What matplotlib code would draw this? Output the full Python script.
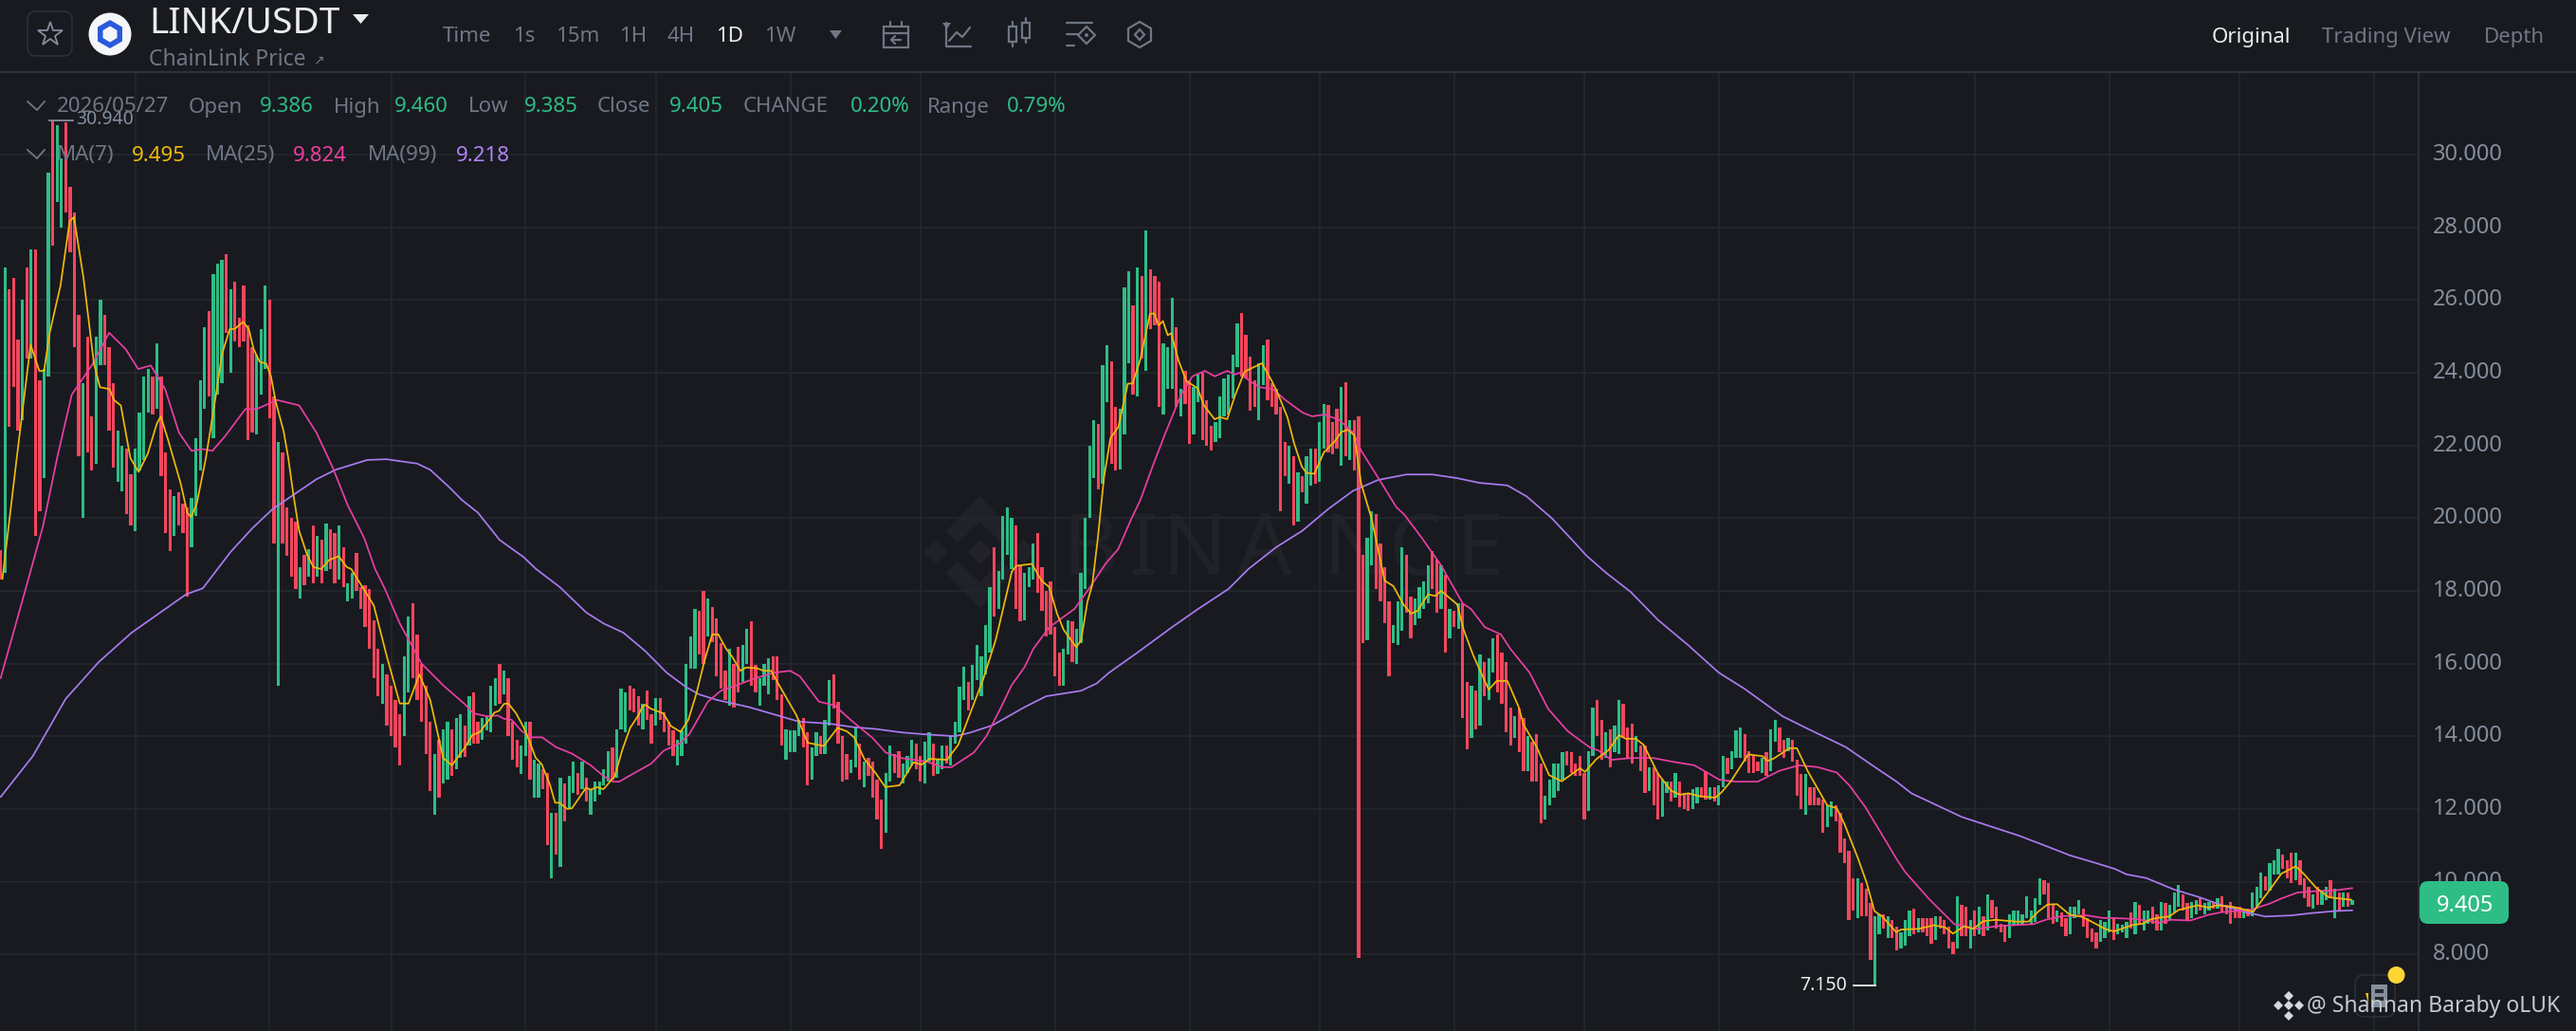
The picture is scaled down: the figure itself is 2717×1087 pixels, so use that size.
import matplotlib
matplotlib.use("Agg")
import matplotlib.pyplot as plt
from matplotlib.patches import Circle, FancyBboxPatch, Polygon, Rectangle
from matplotlib.transforms import ScaledTranslation

# candle highs, ten per row, one candle per day from 2024/12/01
highs = [
    19.13, 26.9, 26.3, 26.6, 24.9, 26.0, 26.9, 27.4, 27.4, 23.8,
    24.1, 29.5, 30.94, 30.8, 29.9, 30.9, 29.1, 28.4, 25.6, 23.7,
    25.0, 22.8, 25.0, 26.0, 25.6, 24.7, 23.7, 22.4, 22.0, 21.9,
    21.2, 21.9, 22.9, 23.9, 24.1, 23.9, 24.8, 23.9, 21.8, 20.8,
    20.6, 20.7, 20.4, 20.3, 20.55, 22.2, 23.8, 25.25, 25.7, 26.7,
    27.0, 27.1, 27.25, 26.3, 26.5, 25.5, 26.4, 25.3, 24.7, 24.5,
    25.2, 26.4, 26.0, 23.35, 22.1, 21.8, 20.3, 20.0, 19.9, 18.65,
    19.0, 19.15, 19.8, 19.5, 19.4, 19.85, 19.7, 19.6, 19.8, 19.2,
    18.2, 18.5, 19.05, 18.1, 18.15, 18.05, 17.2, 16.4, 16.0, 15.7,
    15.4, 15.0, 14.6, 16.2, 17.3, 17.65, 16.8, 16.0, 15.4, 14.4,
    13.5, 13.9, 14.2, 14.4, 14.2, 14.5, 14.6, 14.3, 15.1, 15.2,
    14.4, 14.5, 14.55, 15.4, 15.6, 16.0, 15.8, 15.6, 14.4, 13.9,
    13.75, 14.4, 14.4, 13.35, 13.25, 13.1, 13.0, 11.9, 11.9, 12.85,
    12.7, 12.9, 13.3, 13.0, 13.3, 12.85, 12.55, 12.75, 12.75, 13.1,
    13.6, 13.7, 14.2, 15.3, 15.2, 15.4, 15.3, 15.1, 14.9, 15.25,
    14.6, 15.05, 15.05, 14.65, 14.4, 14.15, 13.9, 14.15, 16.0, 16.75,
    17.5, 17.45, 18.0, 17.8, 17.55, 17.25, 16.55, 15.8, 16.4, 16.0,
    16.45, 16.5, 16.95, 17.15, 15.95, 15.6, 16.0, 16.15, 16.2, 16.2,
    15.15, 14.2, 14.15, 14.15, 14.45, 14.5, 14.1, 13.7, 14.1, 14.0,
    14.45, 15.55, 15.7, 14.95, 14.0, 13.5, 13.35, 14.25, 13.8, 13.3,
    13.4, 13.3, 12.8, 12.25, 13.0, 13.75, 13.5, 13.6, 13.25, 13.45,
    13.9, 13.8, 13.45, 13.85, 14.1, 13.8, 13.35, 13.75, 13.75, 14.0,
    14.4, 15.35, 15.9, 15.5, 15.95, 16.5, 16.2, 17.05, 18.1, 19.2,
    18.55, 20.05, 20.3, 20.0, 19.8, 18.7, 18.5, 18.65, 19.3, 19.6,
    18.65, 18.0, 18.25, 17.0, 16.3, 16.4, 17.2, 17.15, 16.95, 18.5,
    20.0, 22.0, 22.7, 22.6, 24.2, 24.75, 24.3, 23.05, 23.0, 26.35,
    26.8, 25.85, 26.9, 26.65, 27.9, 26.85, 26.65, 26.5, 24.8, 24.7,
    26.05, 25.25, 23.55, 24.05, 23.8, 23.6, 23.95, 24.0, 23.25, 22.55,
    22.65, 23.35, 23.85, 23.95, 24.5, 25.35, 25.65, 25.05, 24.45, 23.8,
    24.25, 24.75, 24.9, 23.7, 23.55, 23.05, 22.1, 22.0, 21.7, 21.25,
    21.15, 21.7, 21.9, 21.9, 22.65, 23.15, 23.1, 22.65, 23.0, 23.6,
    23.75, 22.7, 22.7, 22.8, 19.0, 19.45, 20.2, 20.1, 19.3, 18.65,
    17.7, 17.05, 17.7, 19.2, 19.0, 17.85, 17.8, 18.1, 18.25, 18.7,
    19.1, 18.85, 18.7, 18.45, 17.5, 17.45, 17.65, 17.65, 15.5, 15.4,
    15.25, 16.25, 16.05, 16.15, 16.7, 16.8, 16.3, 16.05, 14.8, 14.55,
    14.75, 14.5, 14.0, 13.85, 14.05, 13.25, 12.35, 12.8, 13.25, 13.25,
    13.55, 13.6, 13.55, 13.25, 13.45, 13.0, 13.6, 14.8, 15.0, 14.45,
    14.1, 14.2, 14.3, 15.0, 14.9, 14.25, 14.35, 14.0, 13.75, 13.75,
    13.15, 13.15, 13.0, 12.8, 12.75, 12.75, 13.0, 12.75, 12.45, 12.45,
    12.55, 12.6, 12.6, 13.05, 12.6, 12.6, 12.65, 13.45, 13.4, 13.6,
    14.15, 14.25, 14.05, 13.6, 13.45, 13.3, 13.4, 13.55, 14.2, 14.45,
    14.25, 13.9, 13.95, 13.9, 13.35, 12.95, 12.95, 12.6, 12.6, 12.3,
    12.25, 12.1, 12.2, 12.1, 11.9, 11.2, 10.85, 10.1, 10.1, 9.95,
    9.8, 9.4, 9.05, 9.1, 9.1, 9.05, 8.95, 8.75, 8.6, 8.95,
    9.2, 9.25, 9.0, 9.0, 9.0, 9.0, 9.05, 9.05, 8.95, 8.75,
    8.35, 9.6, 9.35, 9.3, 8.95, 9.2, 9.3, 9.05, 9.65, 9.5,
    9.3, 8.85, 8.8, 9.1, 9.2, 9.2, 9.1, 9.6, 9.2, 9.55,
    10.1, 10.05, 9.95, 9.35, 9.2, 9.15, 9.0, 9.3, 9.3, 9.5,
    9.25, 9.0, 8.7, 8.6, 8.95, 8.9, 9.2, 9.03, 8.85, 8.8,
    8.9, 9.15, 9.45, 9.35, 9.2, 9.2, 9.3, 9.1, 9.45, 9.4,
    9.35, 9.7, 9.9, 9.65, 9.4, 9.45, 9.5, 9.55, 9.4, 9.45,
    9.45, 9.55, 9.6, 9.35, 9.45, 9.3, 9.3, 9.25, 9.25, 9.7,
    9.85, 10.25, 10.15, 10.5, 10.6, 10.9, 10.75, 10.6, 10.8, 10.8,
    10.6, 10.1, 9.85, 9.65, 9.85, 9.75, 9.85, 10.05, 9.8, 9.7,
    9.7, 9.7, 9.48,
]

lows = [
    18.3, 18.5, 22.5, 23.6, 22.4, 22.7, 24.4, 24.4, 19.5, 20.2,
    21.1, 23.9, 27.5, 28.7, 28.0, 28.4, 27.3, 24.7, 21.7, 20.0,
    21.8, 21.3, 21.5, 24.2, 24.2, 22.4, 21.4, 21.0, 20.75, 20.1,
    19.8, 19.65, 21.3, 21.6, 22.9, 22.85, 23.0, 21.15, 19.6, 19.1,
    19.5, 19.8, 19.6, 17.85, 19.2, 20.05, 21.3, 23.0, 23.35, 22.2,
    23.4, 23.7, 25.1, 24.0, 24.85, 24.7, 24.85, 22.15, 22.35, 22.3,
    23.4, 24.1, 22.75, 19.3, 15.4, 19.3, 18.95, 18.4, 18.05, 17.8,
    18.15, 18.4, 18.2, 18.4, 18.2, 18.55, 18.6, 18.2, 18.3, 18.1,
    17.7, 17.8, 18.0, 17.5, 17.0, 16.4, 15.6, 15.1, 14.9, 14.3,
    14.0, 13.7, 13.2, 14.0, 15.2, 15.6, 15.0, 14.4, 13.5, 12.5,
    11.85, 12.3, 12.7, 12.8, 12.9, 13.1, 13.4, 13.43, 13.75, 13.8,
    13.8, 13.9, 14.15, 14.1, 14.85, 14.9, 15.15, 14.0, 13.35, 13.15,
    12.95, 13.45, 12.8, 12.3, 12.3, 12.55, 11.0, 10.1, 10.75, 10.4,
    11.65, 12.0, 12.45, 12.4, 12.55, 12.2, 11.85, 12.2, 12.4, 12.65,
    12.75, 12.8, 12.85, 14.2, 14.1, 14.7, 14.65, 14.3, 14.2, 14.45,
    13.8, 14.3, 14.45, 14.1, 13.75, 13.45, 13.2, 13.45, 13.8, 15.85,
    15.85, 16.25, 16.0, 16.75, 16.6, 15.65, 15.3, 15.0, 14.85, 14.8,
    15.2, 15.5, 16.0, 15.4, 15.2, 14.85, 15.4, 15.15, 15.55, 15.0,
    13.75, 13.35, 13.55, 13.55, 14.0, 13.7, 12.65, 12.8, 13.45, 13.5,
    13.5, 14.3, 14.75, 13.8, 12.75, 12.8, 13.0, 13.15, 12.8, 12.6,
    12.9, 12.3, 11.7, 10.9, 11.35, 12.75, 13.0, 12.85, 12.7, 13.0,
    13.2, 13.1, 12.75, 12.7, 13.3, 12.9, 12.95, 13.1, 13.25, 13.2,
    13.8, 14.1, 15.0, 14.7, 15.0, 15.55, 15.1, 15.7, 16.3, 17.3,
    17.5, 18.3, 19.0, 18.6, 17.5, 17.15, 17.2, 18.1, 18.3, 17.95,
    17.45, 16.75, 16.8, 15.65, 15.4, 15.4, 16.25, 16.05, 16.0, 16.55,
    18.05, 20.0, 21.1, 20.8, 20.95, 23.2, 21.5, 21.3, 21.35, 22.3,
    24.25, 23.4, 23.35, 24.4, 24.05, 25.2, 25.3, 23.05, 22.85, 23.55,
    23.55, 23.05, 22.8, 23.15, 22.05, 22.3, 23.2, 22.15, 22.0, 21.85,
    22.1, 22.2, 22.8, 22.85, 23.3, 24.15, 23.9, 23.85, 22.95, 23.05,
    22.7, 23.65, 23.25, 23.05, 22.85, 20.2, 21.15, 20.95, 19.8, 19.9,
    20.7, 20.4, 20.9, 20.95, 21.0, 21.9, 21.8, 21.75, 21.9, 21.45,
    21.7, 21.6, 21.3, 7.9, 16.55, 16.65, 18.7, 18.05, 17.7, 17.1,
    15.65, 16.55, 16.5, 16.9, 17.4, 16.7, 17.05, 17.25, 17.5, 17.65,
    18.05, 17.4, 17.5, 16.3, 16.7, 17.0, 16.95, 14.5, 13.65, 13.95,
    14.2, 14.3, 15.1, 15.0, 15.75, 15.2, 14.9, 14.1, 13.75, 13.95,
    13.55, 13.05, 13.05, 12.75, 12.75, 11.6, 11.7, 12.1, 12.3, 12.5,
    12.8, 13.2, 13.0, 12.9, 12.9, 11.7, 11.95, 13.45, 14.0, 13.35,
    13.4, 13.15, 13.55, 13.5, 13.95, 13.4, 13.25, 13.55, 13.05, 12.45,
    12.5, 12.1, 11.7, 11.8, 12.45, 12.2, 12.3, 12.05, 12.0, 11.95,
    12.0, 12.15, 12.3, 12.25, 12.25, 12.2, 12.1, 12.6, 12.95, 13.1,
    13.4, 13.4, 13.3, 13.0, 13.0, 13.05, 13.0, 12.9, 13.05, 13.85,
    13.55, 13.4, 13.6, 13.3, 12.35, 12.0, 11.85, 12.1, 12.1, 12.1,
    11.35, 11.5, 11.8, 11.65, 10.8, 10.5, 8.95, 9.2, 9.0, 9.05,
    9.05, 7.85, 7.15, 8.55, 8.7, 8.45, 8.45, 8.1, 8.15, 8.25,
    8.5, 8.55, 8.6, 8.6, 8.5, 8.3, 8.4, 8.7, 8.55, 8.15,
    8.0, 8.15, 8.5, 8.5, 8.15, 8.5, 8.55, 8.5, 8.65, 9.0,
    8.7, 8.6, 8.35, 8.45, 8.8, 8.8, 8.8, 9.0, 8.85, 8.9,
    9.35, 9.65, 9.0, 8.85, 8.9, 8.75, 8.5, 8.55, 9.0, 9.1,
    8.75, 8.45, 8.35, 8.15, 8.35, 8.45, 8.6, 8.4, 8.55, 8.6,
    8.45, 8.7, 8.55, 8.8, 8.65, 8.85, 8.85, 8.65, 8.65, 8.85,
    8.95, 9.15, 9.3, 9.2, 8.95, 9.0, 9.1, 9.2, 9.1, 9.2,
    9.25, 9.25, 9.15, 9.1, 8.85, 9.0, 9.0, 9.0, 9.05, 9.05,
    9.25, 9.55, 9.75, 9.75, 10.2, 10.2, 10.35, 10.1, 9.95, 10.05,
    9.9, 9.55, 9.3, 9.25, 9.35, 9.35, 9.5, 9.55, 9.0, 9.2,
    9.3, 9.3, 9.35,
]

# g = close above open, r = close below open
directions = (
    "rgrrrgrgrr" "ggrggrrrrg" "rrggrrrggr" "rggggrgrrr" "grrrggggrg"
    "ggrgrrrrrg" "ggrrgrrrrg" "rgrgrgrrgr" "ggrrrrrrgr" "rrrggrrrrr"
    "grggrggrgr" "rggggrgrrr" "ggrggrrgrg" "rggrgrgggg" "grgggrrrgr"
    "rgrrrrgggg" "grrgrrrrgr" "rggrrgggrr" "rggggrrggr" "ggrrrrggrg"
    "rrrrggrrgg" "grrggrggrg" "gggrgggggr" "ggggrrgggr" "rrrrrggrgg"
    "gggrggrrgg" "grgrgrrrgg" "grgrrggrrr" "ggggggrrrr" "ggrrrrrgrg"
    "rggrggrrrg" "rgrrrggrrr" "rgggrrgggg" "rrgrgrgrrg" "rgrggrrrrg"
    "rrgrrrgggg" "grrrrrggrr" "grggrrrgrr" "grrggrgrrr" "ggrrgrggrg"
    "ggrrrrgrgg" "rrgrrrgrrr" "rggrrrrrgr" "rrggrgrrgg" "grgrrrgrrr"
    "rgrrgrgrgr" "rrrggggggg" "grrrgrrggg" "rrrrgggrgg" "grgrggrrgr"
    "gggrrggrgg" "rgrrrrrgrg" "ggrgggrrrg" "rrrgrggrgr" "grg"
)

ma7_days = [0.4, 3.6, 6.9, 8.9, 10, 11.3, 13.8, 15.9, 16.9, 19.1, 21.5, 22.9, 25.1, 26.1, 27.7, 29.9, 31.8, 33.9, 36,
            36.9, 38.6, 41.5, 43, 43.9, 45.2, 47.3, 49.5, 51, 52.8, 53.9, 55.9, 57.2, 58.3, 59.7, 61.2, 62.3, 63.4,
            65.2, 66.3, 67.4, 68.8, 70.6, 72.1, 73.9, 75.7, 77.9, 79.8, 80.8, 83.4, 86, 89, 92, 94, 96.5, 99, 102,
            104, 106.9, 108.7, 110.5, 113.8, 114.9, 116, 117, 118.8, 120.6, 122.2, 123.3, 124.7, 126.6, 127.8, 128.8,
            130.6, 131.7, 134.9, 136, 137.5, 138.9, 141.5, 143.3, 145.1, 147, 148, 148.7, 149.8, 152.7, 154.5, 156.7,
            158.5, 160.4, 162.2, 164, 165.4, 167.2, 168.7, 170.5, 171.8, 174.3, 175.8, 177.6, 179.4, 183.4, 186,
            189.7, 192.9, 195.1, 196.7, 199.1, 201.7, 203.9, 207.2, 210.4, 212.3, 214.1, 218.1, 220.7, 223.6, 226.5,
            229.4, 233.1, 234.2, 237.7, 239.9, 241.7, 243.5, 245, 247.9, 249, 250.5, 251.6, 252.9, 254.3, 255.8, 257.6,
            259.8, 260.9, 262.7, 264.9, 265.9, 266.9, 267.9, 269, 269.8, 271.5, 273.3, 275.9, 277.3, 279.8, 281,
            282.7, 284.5, 286.7, 290.7, 293, 294.4, 296.6, 298.1, 299.9, 301, 302.8, 305, 307.5, 309, 310.5, 312,
            313.6, 316, 319, 321, 323.3, 325.1, 326.6, 329, 330.7, 332, 335.7, 337.2, 339.4, 343, 344.8, 347.3, 349.9,
            351, 354, 356.9, 359.8, 362.3, 364, 365.2, 367.8, 370.7, 373, 374.6, 376.9, 378.7, 382, 385, 387.1, 389,
            391.6, 395.2, 396.6, 398.8, 402.8, 406.1, 407.2, 408.6, 412.3, 414, 416.6, 421, 423.2, 425, 428, 430.1,
            431.9, 433.7, 436.9, 438, 442, 445.6, 448.2, 450, 452.5, 454.7, 456.9, 459.8, 464.5, 467.4, 469.6, 471.8,
            474, 476.9, 479.8, 482.7, 485, 487.1, 491.5, 493.7, 495.5, 498, 499.8, 502, 506.4, 508.9, 510.8, 514.8,
            519.2, 522.8, 525.7, 529, 530.8, 533.7, 536.6, 541.8]
ma7_values = [18.33, 21.55, 24.77, 24.05, 24.05, 25.1, 26.4, 28.17, 28.28, 26.6, 24.25, 23.6, 23.55, 23.25, 23.1, 21.65,
              21.27, 21.77, 22.6, 22.8, 22.15, 20.95, 20.15, 20.03, 20.4, 21.65, 23.3, 24.5, 25.2, 25.2, 25.4, 25.2,
              24.65, 24.3, 24.25, 23.9, 23.2, 22.4, 21.65, 20.7, 19.65, 19, 18.65, 18.6, 18.85, 18.95, 18.65, 18.6,
              18.1, 17.6, 16.2, 14.9, 14.9, 15.7, 15, 13.4, 13.2, 13.67, 14.03, 14.12, 14.65, 14.7, 14.89, 14.9,
              14.63, 14.23, 13.76, 13.41, 13.23, 12.67, 12.17, 12.17, 12, 12.02, 12.58, 12.53, 12.6, 12.54, 12.89,
              13.63, 14.23, 14.58, 14.83, 14.86, 14.76, 14.63, 14.28, 14.12, 14.45, 15.19, 16.06, 16.8, 16.8, 16.41,
              16.17, 15.8, 15.89, 15.87, 15.8, 15.8, 15.41, 14.58, 13.82, 13.73, 14.23, 14.13, 13.97, 13.37, 12.98,
              12.6, 12.65, 13.28, 13.22, 13.38, 13.35, 13.76, 14.67, 15.58, 16.67, 18.54, 18.69, 18.74, 18.28, 18.1,
              17.37, 16.93, 16.45, 16.63, 17.7, 18.16, 19.46, 21.11, 22.2, 22.5, 23.7, 23.7, 24.37, 25.62, 25.63,
              25.3, 25.42, 25.03, 25.09, 24.33, 23.77, 23.57, 23.11, 22.72, 22.78, 22.72, 23.37, 24.03, 24.26, 23.77,
              23.42, 22.77, 22.07, 21.42, 21.24, 21.22, 21.81, 22.11, 22.37, 22.43, 22.28, 20.94, 19.98, 18.28, 18.13,
              17.63, 17.37, 17.45, 17.9, 17.86, 18, 17.63, 16.93, 16.23, 15.28, 15.52, 15.52, 14.8, 14.32, 13.71,
              12.93, 12.76, 12.97, 13.12, 13.02, 13.37, 13.63, 14.03, 13.93, 13.93, 13.76, 12.97, 12.5, 12.39, 12.43,
              12.35, 12.31, 12.45, 12.76, 13.5, 13.45, 13.32, 13.38, 13.67, 13.67, 13.02, 12.1, 12.02, 11.58, 10.67,
              9.97, 9.19, 9.04, 8.61, 8.68, 8.7, 8.8, 8.74, 8.57, 8.77, 8.7, 8.91, 8.95, 8.9, 8.9, 9.17, 9.37, 9.38,
              9.09, 9.03, 8.85, 8.7, 8.63, 8.81, 8.84, 8.96, 9.02, 9.04, 9.22, 9.35, 9.28, 9.35, 9.3, 9.17, 9.74,
              10.22, 10.42, 10.22, 9.83, 9.57, 9.5]

ma25_days = [0, 5.8, 9.8, 13.1, 16.4, 21, 25, 28.8, 31.7, 34.6, 37.9, 41.1, 44, 46.6, 48.8, 51.7, 56.4, 59, 63.7, 68.8,
             72.8, 76.5, 80, 83.8, 86.3, 88.5, 92, 97, 102, 106.9, 109, 112, 114.6, 116, 117.8, 120, 122.2, 124.8, 128,
             131.7, 136, 139, 141.2, 142.6, 145.5, 150, 152.8, 156.5, 158.7, 163, 166, 169.6, 174, 178.4, 182, 184.2,
             188.6, 190.4, 192.2, 195.9, 201, 204, 207.6, 213.4, 217, 219.2, 224.3, 227.2, 230.8, 233, 236, 238, 241.7,
             247.5, 251.1, 254.7, 257.6, 260.5, 262.7, 265.6, 268.5, 272.1, 274.7, 277.6, 279.8, 282.7, 284.5, 285.6,
             288.1, 290.3, 293.2, 296.1, 300.1, 302.3, 305.2, 308.5, 311.8, 313.6, 317.3, 321.7, 323.5, 327.6, 332, 337,
             338.9, 342.1, 345.8, 348, 352.4, 356.7, 361.1, 363.3, 366.2, 368.4, 371.2, 375.8, 380.9, 385.3, 390.4,
             393.3, 396.2, 399.9, 405, 410, 414.5, 418.8, 423.2, 426.1, 429.8, 433.6, 437.1, 439, 444.5, 450.3, 455.4,
             460.5, 468.5, 471.4, 475.1, 480.9, 484.5, 486.5, 492.3, 497.4, 500.3, 504.7, 509, 512, 518.5, 522.9, 525.8,
             529.4, 533.8, 538.2, 542]
ma25_values = [15.6, 18.07, 19.8, 21.7, 23.4, 24.2, 25.1, 24.65, 24.1, 24.2, 23.55, 22.35, 21.85, 21.9, 21.85, 22.25,
               23, 23, 23.25, 23.1, 22.35, 21.4, 20.35, 19.45, 18.6, 18.07, 17.1, 16, 15.4, 14.89, 14.63, 14.55, 14.57,
               14.48, 14.45, 14.15, 13.97, 13.97, 13.7, 13.52, 13.2, 12.9, 12.75, 12.75, 12.95, 13.25, 13.6, 13.8,
               14.05, 14.95, 15.25, 15.4, 15.6, 15.75, 15.8, 15.65, 14.95, 14.9, 14.85, 14.45, 13.95, 13.55, 13.4,
               13.3, 13.15, 13.15, 13.55, 14, 14.85, 15.4, 15.9, 16.4, 17, 17.5, 18.1, 18.75, 19.15, 19.95, 20.5,
               21.45, 22.35, 23.4, 23.9, 24.05, 23.9, 24.05, 23.95, 24, 23.75, 23.6, 23.55, 23.25, 22.9, 22.8, 22.85,
               22.7, 22.35, 21.85, 21.15, 20.3, 20.1, 19.45, 18.7, 17.65, 17.5, 17, 16.8, 16.4, 15.75, 14.75, 14.15,
               13.95, 13.7, 13.6, 13.35, 13.4, 13.4, 13.3, 13.2, 13, 12.8, 12.75, 12.75, 13.05, 13.2, 13.15, 13, 12.65,
               12.05, 11.3, 10.6, 10.26, 9.52, 8.83, 8.7, 8.78, 8.83, 8.95, 9.05, 9.07, 9, 9, 8.97, 8.87, 8.95, 8.93,
               9.09, 9.16, 9.22, 9.39, 9.54, 9.7, 9.74, 9.76, 9.82]

ma99_days = [0, 7.4, 15, 22.6, 30.2, 42.7, 46.6, 53, 58, 62.6, 67, 72.8, 77.2, 84.5, 88.9, 96, 99, 103.4, 106.3, 110, 115,
             120.5, 123.4, 128.9, 135, 139, 143.5, 148.5, 153.5, 158, 161, 165, 172.5, 179.7, 184, 190.7, 196.5, 201.6,
             208, 213.3, 220, 223.5, 228.6, 236, 241, 249, 252.6, 255.5, 262, 270, 276, 283, 287.6, 294, 300, 306,
             311.7, 317.5, 324, 330, 335.7, 340.8, 347.3, 351.7, 357.5, 362.6, 365.5, 370, 375.7, 382, 389, 396, 402,
             410.7, 416.6, 425.3, 432, 437, 440.4, 452, 465.3, 471, 477, 481.3, 487.3, 490, 494.5, 501, 506.8, 512,
             517, 522, 528, 532.4, 538, 542]
ma99_values = [12.33, 13.45, 15.03, 16.04, 16.85, 17.9, 18.07, 19.07, 19.72, 20.24, 20.6, 21.07, 21.33, 21.6, 21.62,
               21.5, 21.33, 20.85, 20.5, 20.15, 19.4, 18.93, 18.6, 18.1, 17.4, 17.1, 16.85, 16.35, 15.75, 15.35, 15.15,
               15, 14.8, 14.55, 14.4, 14.35, 14.25, 14.2, 14.1, 14.05, 14, 14.1, 14.3, 14.8, 15.1, 15.25, 15.45, 15.75,
               16.3, 17, 17.5, 18.05, 18.6, 19.2, 19.65, 20.25, 20.75, 21.05, 21.2, 21.2, 21.1, 20.97, 20.9, 20.6, 20,
               19.35, 18.97, 18.5, 17.97, 17.2, 16.5, 15.75, 15.3, 14.55, 14.2, 13.7, 13.15, 12.75, 12.43, 11.78, 11.26,
               11, 10.72, 10.57, 10.35, 10.2, 10.1, 9.78, 9.57, 9.35, 9.17, 9.04, 9.07, 9.13, 9.19, 9.21]

# first day of each month as candle number
month_days = [31, 62, 90, 121, 151, 182, 212, 243, 274, 304, 335, 365, 396, 427, 455, 486, 516, 547]
price_ticks = [8, 10, 12, 14, 16, 18, 20, 22, 24, 26, 28, 30]

timeframes = ["Time", "1s", "15m", "1H", "4H", "1D", "1W"]
timeframe_x = [467, 541, 586, 653, 703, 755, 806]
view_tabs = ["Original", "Trading View", "Depth"]
view_tab_x = [2333, 2449, 2620]
ohlc_labels = ["2026/05/27", "Open", "High", "Low", "Close", "CHANGE", "Range"]
ohlc_label_x = [60, 199, 352, 494, 630, 784, 978]
ohlc_values = ["9.386", "9.460", "9.385", "9.405", "0.20%", "0.79%"]
ohlc_value_x = [274, 416, 553, 706, 897, 1062]
ma_labels = ["MA(7)", "MA(25)", "MA(99)"]
ma_label_x = [60, 217, 388]
ma_readouts = ["9.495", "9.824", "9.218"]
ma_readout_x = [139, 309, 481]
watermark_letters = "BINANCE"
watermark_x = [1120, 1190, 1225, 1305, 1395, 1465, 1535]

WIDTH, HEIGHT = 2717, 1087
BG = "#181A20"
GRID = "#23272E"
BORDER = "#2D333D"
GREEN = "#2EBD85"
RED = "#F6465D"
MUTED = "#6F7785"
AXIS_TEXT = "#848E9C"
MA_COLORS = ["#F0B90B", "#E83FA3", "#A97BEF"]
READOUT_COLORS = ["#F0B90B", "#EC3F9F", "#B184F5"]
FONT = "Noto Sans"

plt.rcParams["font.family"] = [FONT, "DejaVu Sans"]

fig = plt.figure(figsize=(WIDTH / 100, HEIGHT / 100), dpi=100, facecolor=BG)

# watermark layer, sits under the candles
back = fig.add_axes([0, 0, 1, 1], zorder=0)
back.set_xlim(0, WIDTH)
back.set_ylim(HEIGHT, 0)
back.axis("off")
mark_color = "#202228"
for cx in [987, 1034, 1080]:
    back.add_patch(Polygon([(cx, 569), (cx + 13, 582), (cx, 595), (cx - 13, 582)], color=mark_color, lw=0))
back.add_patch(Polygon([(1033, 523), (1069, 560), (1057, 573), (1033, 550), (1010, 573), (998, 560)], color=mark_color, lw=0))
back.add_patch(Polygon([(1033, 641), (1069, 604), (1057, 591), (1033, 614), (1010, 591), (998, 604)], color=mark_color, lw=0))
for letter, x in zip(watermark_letters, watermark_x):
    back.text(x, 583, letter, color=mark_color, fontsize=65, fontweight="bold", va="center", ha="left")

# price chart, x is the candle number and y the price
ax = fig.add_axes([0, 0, 2551 / WIDTH, (HEIGHT - 76) / HEIGHT], zorder=1)
ax.patch.set_alpha(0)
px_per_day = 4.576
ax.set_xlim(-0.7 / px_per_day, (2551 - 0.7) / px_per_day)
ax.set_ylim(30 - (HEIGHT - 163) / 38.325, 30 + (163 - 76) / 38.325)

days = list(range(len(highs)))
colors = [GREEN if d == "g" else RED for d in directions]
spans = [h - l for h, l in zip(highs, lows)]
ax.bar(days, spans, bottom=lows, width=0.72, color=colors, linewidth=0, zorder=3)

ax.plot(ma99_days, ma99_values, color=MA_COLORS[2], lw=1.25, zorder=4)
ax.plot(ma25_days, ma25_values, color=MA_COLORS[1], lw=1.25, zorder=5)
ax.plot(ma7_days, ma7_values, color=MA_COLORS[0], lw=1.25, zorder=6)

ax.set_xticks(month_days)
ax.set_yticks(price_ticks)
ax.set_yticklabels([f"{p:.3f}" for p in price_ticks], fontsize=17, color=AXIS_TEXT)
ax.yaxis.tick_right()
ax.tick_params(axis="y", length=0, pad=11)
ax.tick_params(axis="x", length=0, labelbottom=False)
for label in ax.get_yticklabels():
    label.set_transform(label.get_transform() + ScaledTranslation(0, 3 / 100, fig.dpi_scale_trans))
ax.grid(True, color=GRID, lw=1.3, zorder=1)
ax.set_axisbelow(True)
for side in ["top", "left", "bottom"]:
    ax.spines[side].set_visible(False)
ax.spines["right"].set_color(BORDER)
ax.spines["right"].set_linewidth(1.3)

# highest and lowest price labels
high_day, low_day = highs.index(max(highs)), lows.index(min(lows))
ax.plot([high_day - 0.7, high_day + 4.6], [max(highs)] * 2, color=AXIS_TEXT, lw=1.3, zorder=7)
ax.annotate(f"{max(highs):.3f}", (high_day + 4.6, max(highs)), xytext=(4, 1), textcoords="offset pixels",
            color=AXIS_TEXT, fontsize=14, va="center", ha="left", zorder=7)
ax.plot([low_day - 5, low_day], [min(lows)] * 2, color="#EAECEF", lw=1.3, zorder=7)
ax.annotate(f"{min(lows):.3f}", (low_day - 5, min(lows)), xytext=(-7, 0), textcoords="offset pixels",
            color="#EAECEF", fontsize=14, va="center", ha="right", zorder=7)

# page chrome on top, in picture pixels
ui = fig.add_axes([0, 0, 1, 1], zorder=2)
ui.set_xlim(0, WIDTH)
ui.set_ylim(HEIGHT, 0)
ui.axis("off")
ui.patch.set_alpha(0)

ui.plot([0, WIDTH], [76, 76], color=BORDER, lw=1.5)

ui.add_patch(FancyBboxPatch((29, 12), 47, 47, boxstyle="round,pad=0,rounding_size=9", fc="none", ec=BORDER, lw=1))
ui.plot([52.5], [36], marker="*", ms=19, mfc="none", mec=AXIS_TEXT, mew=1.3)
ui.add_patch(Circle((116, 36), 22.5, color="#F5F6F8", lw=0))
ui.add_patch(Polygon([(116, 21), (129, 28.5), (129, 43.5), (116, 51), (103, 43.5), (103, 28.5)], color="#2A5ADA", lw=0))
ui.add_patch(Polygon([(116, 27.5), (123.5, 32), (123.5, 40), (116, 44.5), (108.5, 40), (108.5, 32)], color="#F5F6F8", lw=0))

ui.text(157, 25, "LINK/USDT", color="#EAECEF", fontsize=28, fontweight="medium", va="center", ha="left")
ui.add_patch(Polygon([(372, 15), (389, 15), (380.5, 25)], color="#EAECEF", lw=0))
ui.text(157, 63, "ChainLink Price", color=MUTED, fontsize=16.5, va="center", ha="left")
ui.text(330, 64, "↗", color=MUTED, fontsize=10, va="center", ha="left")

for label, x in zip(timeframes, timeframe_x):
    ui.text(x, 39, label, color="#EAECEF" if label == "1D" else MUTED, fontsize=16,
            fontweight="bold" if label == "1D" else "normal", va="center", ha="left")
ui.add_patch(Polygon([(875, 32), (888, 32), (881.5, 41)], color=MUTED, lw=0))

# toolbar icons
icon = dict(color=MUTED, lw=1.6, solid_capstyle="round")
ui.add_patch(Rectangle((932, 28), 26, 22, fc="none", ec=MUTED, lw=1.6))
ui.plot([932, 958], [35, 35], **icon)
ui.plot([939, 939], [23, 28], **icon)
ui.plot([951, 951], [23, 28], **icon)
ui.plot([940, 950], [42, 42], **icon)
ui.plot([944, 940, 944], [38, 42, 46], **icon)
ui.plot([998, 998, 1024], [24, 49, 49], **icon)
ui.plot([1001, 1009, 1015, 1023], [43, 34, 39, 29], **icon)
ui.add_patch(Polygon([(994, 24), (1003, 24), (998.5, 31)], color=MUTED, lw=0))
for cx, top, bot in [(1068, 28, 44), (1082, 24, 40)]:
    ui.add_patch(Rectangle((cx - 4, top), 8, bot - top, fc="none", ec=MUTED, lw=1.6))
    ui.plot([cx, cx], [top - 5, top], **icon)
    ui.plot([cx, cx], [bot, bot + 5], **icon)
ui.plot([1125, 1152], [24, 24], **icon)
ui.plot([1125, 1137], [36, 36], **icon)
ui.plot([1125, 1133], [48, 48], **icon)
ui.add_patch(Polygon([(1146, 28), (1155, 37), (1146, 46), (1137, 37)], fc="none", ec=MUTED, lw=1.6))
ui.add_patch(Circle((1146, 37), 2, color=MUTED, lw=0))
ui.add_patch(Polygon([(1202, 23), (1214, 30), (1214, 43), (1202, 50), (1190, 43), (1190, 30)], fc="none", ec=MUTED, lw=1.6))
ui.add_patch(Polygon([(1202, 31), (1207, 36.5), (1202, 42), (1197, 36.5)], fc="none", ec=MUTED, lw=1.6))

for label, x in zip(view_tabs, view_tab_x):
    ui.text(x, 39, label, color="#EAECEF" if label == "Original" else MUTED, fontsize=16,
            fontweight="bold" if label == "Original" else "normal", va="center", ha="left")

for y in [112, 163]:
    ui.plot([29, 39, 47], [y - 5, y + 4, y - 5], color=MUTED, lw=1.3)
for label, x in zip(ohlc_labels, ohlc_label_x):
    ui.text(x, 113, label, color=MUTED, fontsize=16, va="center", ha="left")
for value, x in zip(ohlc_values, ohlc_value_x):
    ui.text(x, 113, value, color=GREEN, fontsize=16, va="center", ha="left")
for label, x in zip(ma_labels, ma_label_x):
    ui.text(x, 164, label, color=MUTED, fontsize=16, va="center", ha="left")
for value, x, c in zip(ma_readouts, ma_readout_x, READOUT_COLORS):
    ui.text(x, 164, value, color=c, fontsize=16, va="center", ha="left")

# last price tag
ui.add_patch(FancyBboxPatch((2552, 929), 94, 45, boxstyle="round,pad=0,rounding_size=9", fc=GREEN, ec="none"))
ui.text(2600, 955, "9.405", color="#FFFFFF", fontsize=17, va="center", ha="center")

# corner widget and credit
ui.add_patch(FancyBboxPatch((2484, 1028), 42, 44, boxstyle="round,pad=0,rounding_size=9", fc="none", ec=BORDER, lw=1))
ui.add_patch(Rectangle((2501, 1038), 17, 24, color=AXIS_TEXT, lw=0))
ui.add_patch(Rectangle((2505, 1043), 9, 4, color="#23272E", lw=0))
ui.add_patch(Rectangle((2505, 1051), 9, 4, color="#23272E", lw=0))
ui.add_patch(Polygon([(2495, 1047), (2498, 1047), (2498, 1058)], color="#F0B90B", lw=0))
ui.add_patch(Circle((2527.5, 1028), 9, color="#FCD535", lw=0))
for cx, cy in [(2414, 1050), (2403, 1060), (2425, 1060), (2414, 1071), (2414, 1060)]:
    ui.add_patch(Polygon([(cx, cy - 5), (cx + 5, cy), (cx, cy + 5), (cx - 5, cy)], color="#D5D9DF", lw=0))
ui.text(2433, 1061, "@ Shannan Baraby oLUK", color="#C4C8CF", fontsize=16.5, va="center", ha="left")

fig.savefig("out.png", dpi=100, facecolor=BG)
